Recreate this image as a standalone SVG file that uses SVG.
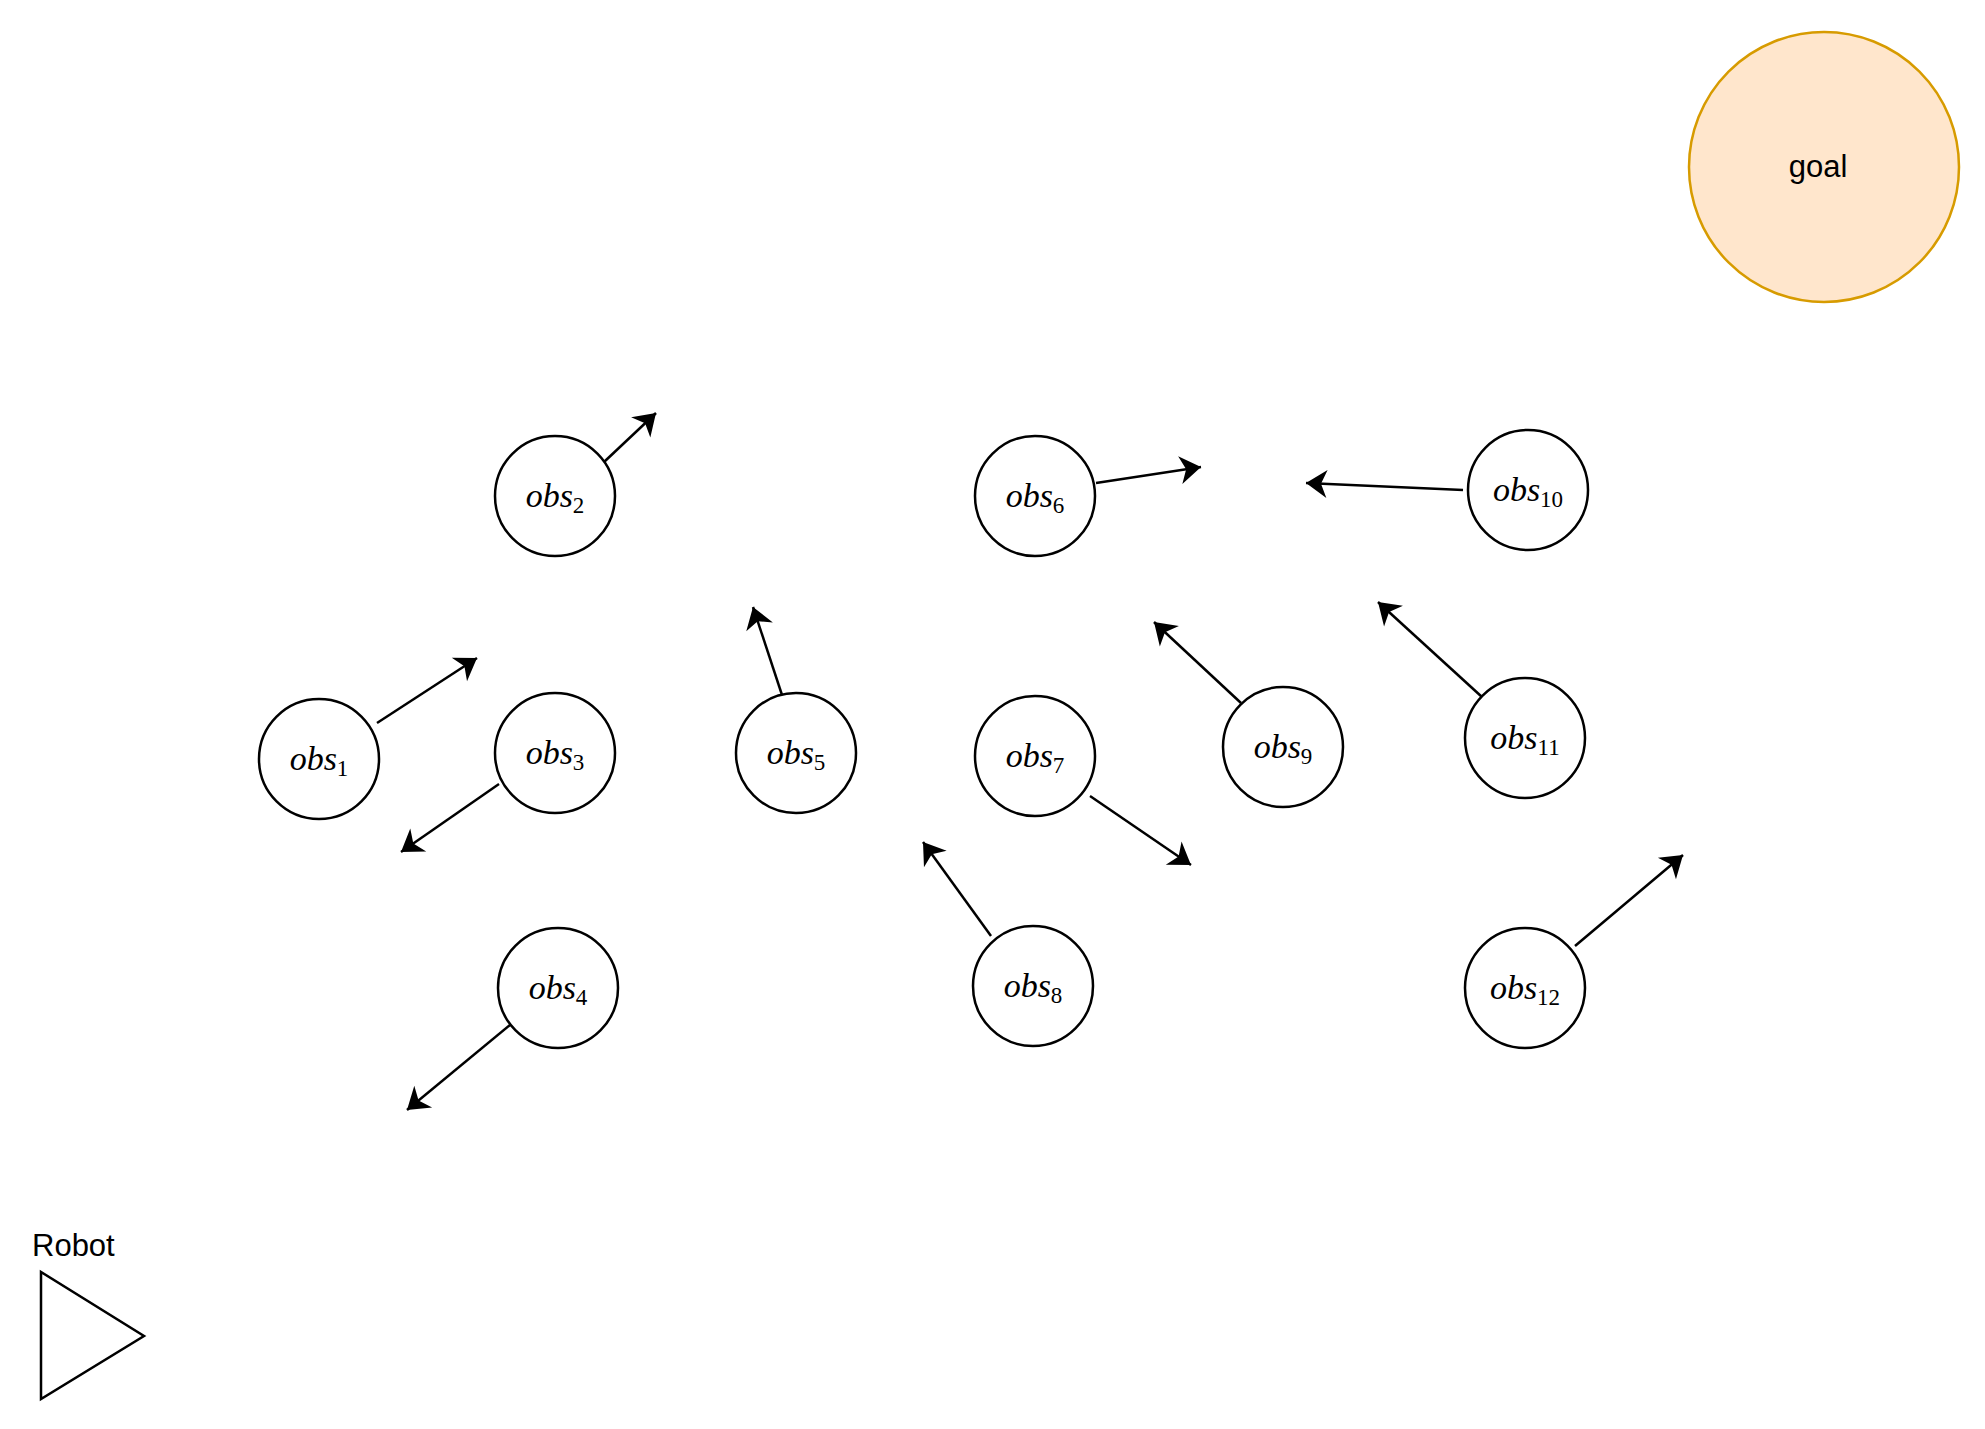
<svg xmlns="http://www.w3.org/2000/svg" width="1985" height="1429" viewBox="0 0 1985 1429">
<style>
.n{fill:#fff;stroke:#000;stroke-width:2.5}
.t{font-family:"Liberation Serif",serif;font-style:italic;font-size:34px;text-anchor:middle}
.s{font-style:normal;font-size:23px}
.c line{stroke:#000;stroke-width:2.5;marker-end:url(#a)}
</style>
<defs><marker id="a" viewBox="0 0 10 10" refX="9" refY="5" markerWidth="10" markerHeight="10" markerUnits="userSpaceOnUse" orient="auto" overflow="visible"><path d="M-12,-9 L9,5 L-12,19 L-6,5 Z" transform="scale(1)" fill="#000"/></marker></defs>
<rect width="1985" height="1429" fill="#fff"/>
<g id="goal"><circle cx="1824" cy="167" r="135" fill="#ffe6cc" stroke="#d79b00" stroke-width="2.5"/><text x="1818" y="177" font-family="Liberation Sans,sans-serif" font-size="31" text-anchor="middle">goal</text></g>
<g id="robot"><polygon points="41,1272 41,1399 144,1336" fill="#fff" stroke="#000" stroke-width="2.5"/><text x="32" y="1256" font-family="Liberation Sans,sans-serif" font-size="31">Robot</text></g>
<g id="obs1"><circle class="n" cx="319" cy="759" r="60"/><text class="t" x="319" y="770">obs<tspan class="s" dy="6">1</tspan></text></g>
<g id="obs2"><circle class="n" cx="555" cy="496" r="60"/><text class="t" x="555" y="507">obs<tspan class="s" dy="6">2</tspan></text></g>
<g id="obs3"><circle class="n" cx="555" cy="753" r="60"/><text class="t" x="555" y="764">obs<tspan class="s" dy="6">3</tspan></text></g>
<g id="obs4"><circle class="n" cx="558" cy="988" r="60"/><text class="t" x="558" y="999">obs<tspan class="s" dy="6">4</tspan></text></g>
<g id="obs5"><circle class="n" cx="796" cy="753" r="60"/><text class="t" x="796" y="764">obs<tspan class="s" dy="6">5</tspan></text></g>
<g id="obs6"><circle class="n" cx="1035" cy="496" r="60"/><text class="t" x="1035" y="507">obs<tspan class="s" dy="6">6</tspan></text></g>
<g id="obs7"><circle class="n" cx="1035" cy="756" r="60"/><text class="t" x="1035" y="767">obs<tspan class="s" dy="6">7</tspan></text></g>
<g id="obs8"><circle class="n" cx="1033" cy="986" r="60"/><text class="t" x="1033" y="997">obs<tspan class="s" dy="6">8</tspan></text></g>
<g id="obs9"><circle class="n" cx="1283" cy="747" r="60"/><text class="t" x="1283" y="758">obs<tspan class="s" dy="6">9</tspan></text></g>
<g id="obs10"><circle class="n" cx="1528" cy="490" r="60"/><text class="t" x="1528" y="501">obs<tspan class="s" dy="6">10</tspan></text></g>
<g id="obs11"><circle class="n" cx="1525" cy="738" r="60"/><text class="t" x="1525" y="749">obs<tspan class="s" dy="6">11</tspan></text></g>
<g id="obs12"><circle class="n" cx="1525" cy="988" r="60"/><text class="t" x="1525" y="999">obs<tspan class="s" dy="6">12</tspan></text></g>
<g id="connectors" class="c">
<line x1="377" y1="723" x2="477" y2="658"/>
<line x1="604" y1="462" x2="656" y2="413"/>
<line x1="499" y1="784" x2="401" y2="852"/>
<line x1="510" y1="1025" x2="407" y2="1110"/>
<line x1="782" y1="695" x2="753" y2="607"/>
<line x1="1096" y1="483" x2="1201" y2="467"/>
<line x1="1463" y1="490" x2="1306" y2="483"/>
<line x1="1241" y1="703" x2="1154" y2="622"/>
<line x1="1482" y1="697" x2="1378" y2="602"/>
<line x1="1090" y1="796" x2="1191" y2="865"/>
<line x1="991" y1="936" x2="923" y2="842"/>
<line x1="1575" y1="946" x2="1683" y2="855"/>
</g>
</svg>
